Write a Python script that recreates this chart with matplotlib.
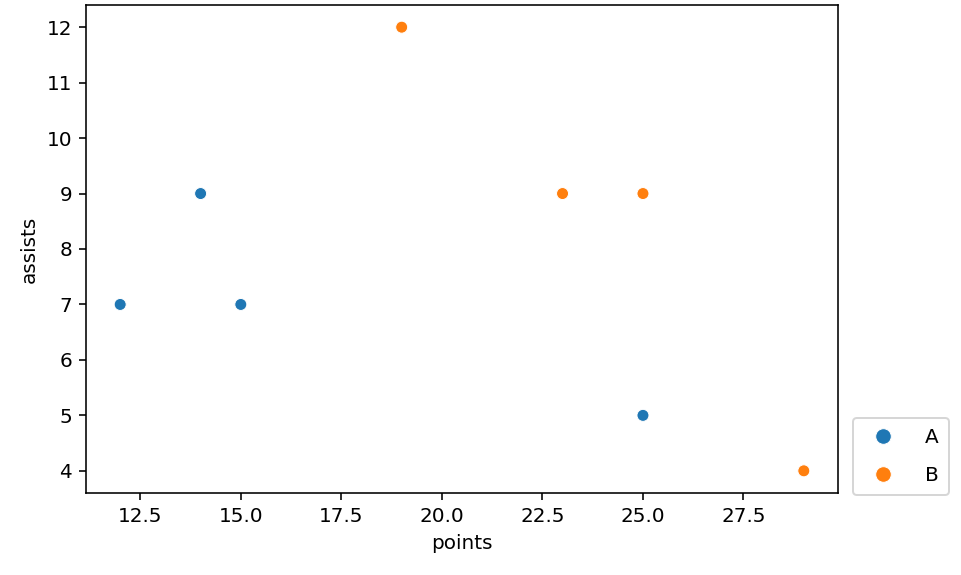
import matplotlib
matplotlib.use("Agg")
import matplotlib.pyplot as plt
import pandas as pd
import seaborn as sns

team = ['A', 'A', 'A', 'A', 'B', 'B', 'B', 'B']
points = [12, 14, 15, 25, 19, 23, 25, 29]
assists = [7, 9, 7, 5, 12, 9, 9, 4]

df = pd.DataFrame({'team': team, 'points': points, 'assists': assists})

W, H, dpi = 961, 575, 144
fig = plt.figure(figsize=(W / dpi, H / dpi), dpi=dpi)
ax = fig.add_axes([86 / W, 1 - 493 / H, (838 - 86) / W, (493 - 5) / H])

sns.scatterplot(data=df, x='points', y='assists', hue='team', ax=ax)
ax.legend(bbox_to_anchor=(1.02, -0.004), loc='lower left', borderaxespad=0,
          markerscale=1.3, handletextpad=1.1, labelspacing=0.95,
          borderpad=0.5)

fig.savefig('out.png', dpi=dpi)
